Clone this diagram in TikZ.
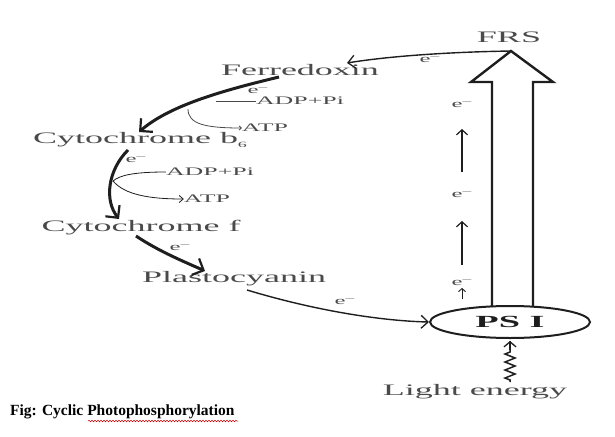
\documentclass[tikz,border=0pt]{standalone}
\usepackage{fontspec}
\setmainfont{Liberation Serif}
\usetikzlibrary{arrows.meta,shapes.geometric,decorations.pathmorphing}
\definecolor{txt}{HTML}{4A4A4A}
\definecolor{ink}{HTML}{1E1E1E}
\newcommand{\wide}[1]{\scalebox{2.25}[1]{#1}}
\tikzset{
  lbl/.style={inner sep=0pt, text=txt, font=\fontsize{16}{16}\selectfont},
  elbl/.style={inner sep=0pt, text=txt, font=\fontsize{11}{11}\selectfont},
  small/.style={inner sep=0pt, text=txt, font=\fontsize{11.5}{12}\selectfont},
  thick arrow/.style={draw=ink, line width=3pt, -{Straight Barb[length=9pt,width=18pt,line width=2.2pt]}},
  thin arrow/.style={draw=ink, line width=1.4pt, -{Straight Barb[length=7pt,width=13pt,line width=1.3pt]}},
  gray arrow/.style={draw=txt, line width=0.8pt},
  up arrow/.style={draw=ink, line width=1.6pt, -{Straight Barb[length=5pt,width=11pt,line width=1.2pt]}},
}
\begin{document}
\begin{tikzpicture}[x=1pt,y=-1pt]
\useasboundingbox (0,0) rectangle (615,436);
% nodes
\node[lbl] (frs) at (509,37) {\wide{FRS}};
\node[lbl] (fd) at (300,70) {\wide{Ferredoxin}};
\node[lbl] (cb6) at (140,140) {\wide{Cytochrome b\raisebox{-4pt}{\fontsize{8}{8}\selectfont 6}}};
\node[lbl] (cf) at (141,228) {\wide{Cytochrome f}};
\node[lbl] (pc) at (234,279) {\wide{Plastocyanin}};
\node[draw=ink, line width=2pt, ellipse, minimum width=160pt, minimum height=32pt, inner sep=0pt,
      font=\fontsize{17}{17}\selectfont\bfseries, text=ink] (ps) at (510,322) {\wide{PS I}};
\node[lbl] (light) at (475,392) {\wide{Light energy}};
\node[small] (adp1) at (300,101) {\wide{ADP+Pi}};
\node[small] (atp1) at (265,128) {\wide{ATP}};
\node[small] (adp2) at (210,172) {\wide{ADP+Pi}};
\node[small] (atp2) at (207,199) {\wide{ATP}};
% e- labels
\node[elbl] (e1) at (430,60) {\wide{e\textsuperscript{--}}};
\node[elbl] (e2) at (258,91) {\wide{e\textsuperscript{--}}};
\node[elbl] (e3) at (136,160) {\wide{e\textsuperscript{--}}};
\node[elbl] (e4) at (180,248) {\wide{e\textsuperscript{--}}};
\node[elbl] (e5) at (345,302) {\wide{e\textsuperscript{--}}};
\node[elbl] (e6) at (462,105) {\wide{e\textsuperscript{--}}};
\node[elbl] (e7) at (462,195) {\wide{e\textsuperscript{--}}};
\node[elbl] (e8) at (462,283) {\wide{e\textsuperscript{--}}};
% big hollow arrow
\coordinate (apex) at (511,51);
\draw[draw=ink, line width=2.4pt, line join=miter]
  (492,307) -- (492,82) -- (471,82) -- (apex) -- (553,82) -- (533,82) -- (533,307);
% FRS -> Ferredoxin
\coordinate (fdin) at (347,63);
\draw[thin arrow] (apex) .. controls (450,52) and (390,56) .. (fdin);
% Ferredoxin -> Cytochrome b6
\coordinate (fdout) at (279,77);
\coordinate (cbin) at (139,132);
\draw[thick arrow] (fdout) .. controls (225,90) and (170,105) .. (cbin);
% Cytochrome b6 -> Cytochrome f
\coordinate (cbout) at (128,150);
\coordinate (cfin) at (119,219);
\draw[thick arrow] (cbout) .. controls (108,170) and (104,200) .. (cfin);
% Cytochrome f -> Plastocyanin
\coordinate (cfout) at (136,236);
\coordinate (pcin) at (205,271);
\draw[thick arrow] (cfout) .. controls (160,252) and (185,262) .. (pcin);
% Plastocyanin -> PS I
\coordinate (pcout) at (247,290);
\draw[thin arrow] (pcout) .. controls (320,312) and (385,321) .. (ps.west);
% ADP/ATP 1
\draw[gray arrow] (adp1.west) -- ++(-40,0);
\coordinate (a1) at (188,109);
\draw[gray arrow, -{Straight Barb[length=2pt,width=4pt]}] (a1) .. controls (188,124) and (205,128) .. (atp1.west);
% ADP/ATP 2
\coordinate (a2) at (113,181);
\draw[draw=ink, line width=0.8pt] (adp2.west) .. controls (135,172) and (120,175) .. (a2);
\draw[draw=ink, line width=0.8pt, -{Straight Barb[length=4pt,width=7pt]}] (a2) .. controls (125,195) and (150,199) .. (atp2.west);
% small upward electron arrows
\coordinate (u1a) at (462,172); \coordinate (u1b) at (462,129);
\coordinate (u2a) at (462,265); \coordinate (u2b) at (462,221);
\coordinate (u3a) at (462,299); \coordinate (u3b) at (462,288);
\draw[up arrow] (u1a) -- (u1b);
\draw[up arrow] (u2a) -- (u2b);
\draw[draw=ink, line width=1pt, -{Straight Barb[length=3pt,width=7pt,line width=0.9pt]}] (u3a) -- (u3b);
% light zigzag
\coordinate (lz) at (510,382);
\coordinate (lzt) at (510,341);
\draw[draw=ink, line width=1.5pt, decorate,
  decoration={zigzag, amplitude=5pt, segment length=8pt, pre length=2pt, post length=8pt}] (lz) -- (lzt);
\draw[draw=ink, line width=1.5pt, -{Straight Barb[length=5pt,width=12pt,line width=1.3pt]}] (510,350) -- (lzt);
% caption
\node[anchor=west, inner sep=0pt, font=\fontsize{15.5}{16}\selectfont\bfseries, text=black] (cap) at (10,412) {Fig: Cyclic Photophosphorylation};
\draw[red!80!black, line width=0.5pt, decorate, decoration={snake, amplitude=0.8pt, segment length=3pt}] (88,421) -- (238,421);
\end{tikzpicture}
\end{document}
